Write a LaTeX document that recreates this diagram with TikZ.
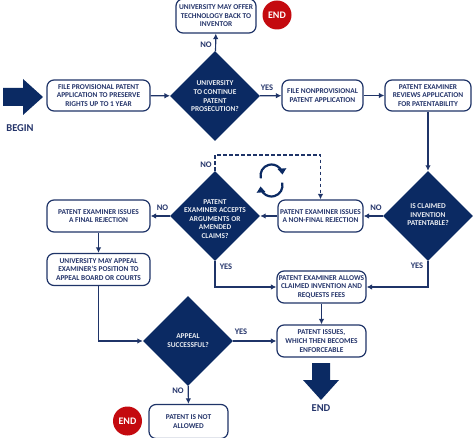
\documentclass[tikz,border=0pt]{standalone}
\usepackage{fontspec}
\setmainfont{Carlito}
\usetikzlibrary{shapes.geometric,arrows.meta}
\definecolor{navy}{HTML}{0B2A63}
\definecolor{boxline}{HTML}{1F3468}
\definecolor{txt}{HTML}{25356B}
\definecolor{endred}{HTML}{C40A0F}
\tikzset{
 box/.style={draw=boxline,line width=1.2pt,rounded corners=7pt,fill=white,align=center,inner sep=0pt,text=txt,font=\fontsize{7.4}{8.6}\selectfont\bfseries},
 dia/.style={diamond,fill=navy,inner sep=0pt,minimum width=90pt,minimum height=90pt,aspect=1},
 diatext/.style={align=center,inner sep=0pt,text=white!92!navy,font=\fontsize{7.4}{8.6}\selectfont\bfseries},
 lab/.style={inner sep=0pt,text=txt,font=\fontsize{8.5}{9}\selectfont\bfseries},
 biglab/.style={inner sep=0pt,text=txt,font=\fontsize{10.5}{11}\selectfont\bfseries},
 endc/.style={circle,fill=endred,inner sep=0pt,minimum size=29pt,text=white,font=\fontsize{10}{10}\selectfont\bfseries},
 conn/.style={draw=boxline,line width=1.2pt,-{Latex[length=5.5pt,width=5.5pt]}},
 dashconn/.style={conn,dash pattern=on 3.5pt off 2.5pt},
 cyc/.style={draw=navy,line width=2.2pt,-{Triangle[length=6pt,width=8.5pt]}}
}
\begin{document}
\begin{tikzpicture}[x=1pt,y=-1pt]
\path[use as bounding box,clip] (0,0) rectangle (474,438);
\node[box,minimum width=103pt,minimum height=31pt] (file) at (98.5,95.5) {FILE PROVISIONAL PATENT\\APPLICATION TO PRESERVE\\RIGHTS UP TO 1 YEAR};
\node[dia] (d1) at (215,96) {};
\node[diatext] (d1t) at (215,96.5) {UNIVERSITY\\TO CONTINUE\\PATENT\\PROSECUTION?};
\node[box,minimum width=80pt,minimum height=34pt] (offer) at (216,16) {UNIVERSITY MAY OFFER\\TECHNOLOGY BACK TO\\INVENTOR};
\node[endc] (end1) at (277,15) {END};
\node[box,minimum width=81pt,minimum height=31pt] (nonprov) at (322.5,95.5) {FILE NONPROVISIONAL\\PATENT APPLICATION};
\node[box,minimum width=86pt,minimum height=31pt] (review) at (428,95.5) {PATENT EXAMINER\\REVIEWS APPLICATION\\FOR PATENTABILITY};
\node[dia] (d3) at (428,216) {};
\node[diatext] (d3t) at (428,215) {IS CLAIMED\\INVENTION\\PATENTABLE?};
\node[box,minimum width=85pt,minimum height=32pt] (nonfinal) at (320.5,216) {PATENT EXAMINER ISSUES\\A NON-FINAL REJECTION};
\node[dia] (d2) at (215,216) {};
\node[diatext] (d2t) at (215,219) {PATENT\\EXAMINER ACCEPTS\\ARGUMENTS OR\\AMENDED\\CLAIMS?};
\node[box,minimum width=103pt,minimum height=32pt] (final) at (98.5,216) {PATENT EXAMINER ISSUES\\A FINAL REJECTION};
\node[box,minimum width=103pt,minimum height=32pt] (appeal) at (98.5,269.5) {UNIVERSITY MAY APPEAL\\EXAMINER'S POSITION TO\\APPEAL BOARD OR COURTS};
\node[box,minimum width=89pt,minimum height=32pt] (allows) at (321.5,287) {PATENT EXAMINER ALLOWS\\CLAIMED INVENTION AND\\REQUESTS FEES};
\node[box,minimum width=89pt,minimum height=32pt] (issues) at (321.5,341) {PATENT ISSUES,\\WHICH THEN BECOMES\\ENFORCEABLE};
\node[dia] (d4) at (188,341) {};
\node[diatext] (d4t) at (188,340.5) {APPEAL\\SUCCESSFUL?};
\node[box,minimum width=79pt,minimum height=34pt] (notallowed) at (188.5,421.5) {PATENT IS NOT\\ALLOWED};
\node[endc] (end2) at (127.5,421) {END};
% connectors
\draw[conn] (file) -- (d1);
\draw[conn] (d1) -- (offer);
\draw[conn] (d1) -- (nonprov);
\draw[conn] (nonprov) -- (review);
\draw[conn] (review) -- (d3);
\draw[conn] (d3) -- (nonfinal);
\draw[conn] (nonfinal) -- (d2);
\draw[conn] (d2) -- (final);
\draw[conn] (final) -- (appeal);
\draw[conn] (appeal.south) |- (d4.west);
\draw[conn] (d2.south) |- (allows.west);
\draw[conn] (d3.south) |- (allows.east);
\draw[conn] (allows) -- (issues);
\draw[conn] (d4) -- (issues);
\draw[conn] (d4) -- (notallowed);
\coordinate (dl) at (215,155);
\coordinate (dr) at (320.5,155);
\draw[dashconn] (d2.north) -- (dl) -- (dr) -- (nonfinal.north);
% labels
\node[lab] (l1) at (206,45) {NO};
\node[lab] (l2) at (267,87.5) {YES};
\node[lab] (l3) at (206,165) {NO};
\node[lab] (l4) at (162.5,207.5) {NO};
\node[lab] (l5) at (376,207.5) {NO};
\node[lab] (l6) at (226,266.5) {YES};
\node[lab] (l7) at (417,266) {YES};
\node[lab] (l8) at (241,332) {YES};
\node[lab] (l9) at (178,391) {NO};
% big arrows
\fill[navy] (3,88) -- (23,88) -- (23,79) -- (43,97) -- (23,115) -- (23,106) -- (3,106) -- cycle;
\node[biglab] (begin) at (20,128.5) {BEGIN};
\fill[navy] (312,363) -- (330,363) -- (330,380) -- (339,380) -- (321,400) -- (303,380) -- (312,380) -- cycle;
\node[biglab] (endlab) at (321,408) {END};
% cycle icon
\begin{scope}[shift={(271.5,175.5)},x=1pt,y=1pt]
\draw[cyc] (195:11) arc[start angle=195,end angle=5,radius=11];
\end{scope}
\begin{scope}[shift={(271.5,185.5)},x=1pt,y=1pt]
\draw[cyc] (15:11) arc[start angle=15,end angle=-175,radius=11];
\end{scope}
\end{tikzpicture}
\end{document}
